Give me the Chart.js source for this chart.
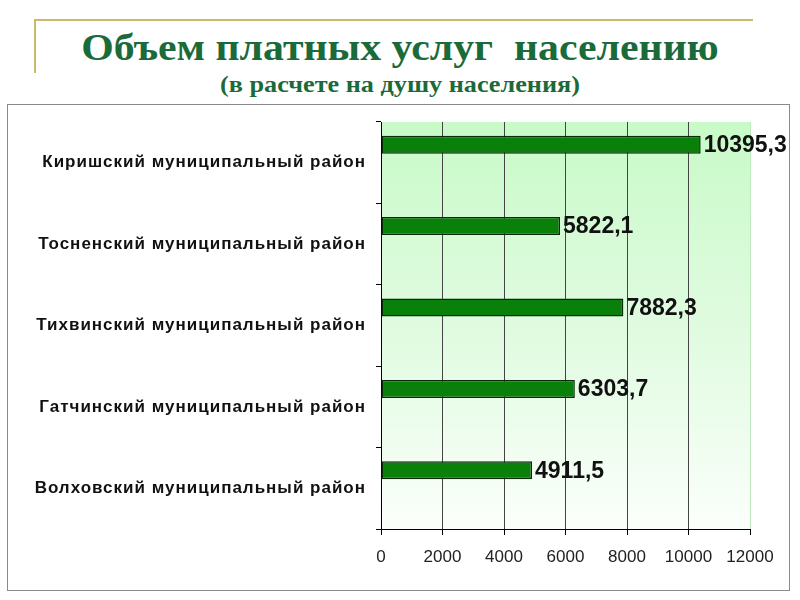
<!DOCTYPE html>
<html><head><meta charset="utf-8">
<script src="https://cdn.jsdelivr.net/npm/chart.js@4/dist/chart.umd.min.js"></script>
<style>
html,body{margin:0;padding:0;background:#fff;width:800px;height:600px;overflow:hidden;}
#wrap{position:absolute;left:0;top:0;width:800px;height:600px;}
.t{position:absolute;left:0;width:800px;text-align:center;font-family:"Liberation Serif",serif;font-weight:bold;color:#1a6a3a;white-space:nowrap;}
#t1{top:26px;font-size:37px;transform:scaleX(1.13);}
#t2{top:72px;font-size:23px;transform:scaleX(1.14);}
#gh{position:absolute;left:34px;top:19px;width:719px;height:2px;background:#cdb76a;}
#gv{position:absolute;left:34px;top:19px;width:2px;height:54px;background:#cdb76a;}
#frame{position:absolute;left:7px;top:104px;width:783px;height:487px;border:1.5px solid #8a8a8a;box-sizing:border-box;}
canvas{position:absolute;left:0;top:0;}
</style></head>
<body>
<div id="gh"></div><div id="gv"></div>
<div class="t" id="t1">Объем платных услуг&nbsp; населению</div>
<div class="t" id="t2">(в расчете на душу населения)</div>
<div id="frame"></div>
<div id="wrap"><canvas id="c" width="800" height="600"></canvas></div>
<script>
const categories = ["Киришский муниципальный район","Тосненский муниципальный район","Тихвинский муниципальный район","Гатчинский муниципальный район","Волховский муниципальный район"];
const values = [10395.3, 5822.1, 7882.3, 6303.7, 4911.5];
const valueLabels = ["10395,3","5822,1","7882,3","6303,7","4911,5"];
const xTicks = [0,2000,4000,6000,8000,10000,12000];

const bgPlugin = {
  id:'bg',
  beforeDraw(chart){
    const {ctx, chartArea:a} = chart;
    const g = ctx.createLinearGradient(0,a.top,0,a.bottom);
    g.addColorStop(0,'#c8fac8');
    g.addColorStop(0.55,'#e2fbe2');
    g.addColorStop(1,'#fbfffb');
    ctx.save(); ctx.fillStyle=g; ctx.fillRect(a.left,a.top,a.right-a.left,a.bottom-a.top); ctx.restore();
  },
  afterLayout(chart){
    const ys = chart.scales.y;
    if (!ys._spaced){
      const orig = ys.drawLabels;
      ys.drawLabels = function(area){ this.ctx.save(); this.ctx.letterSpacing='1px'; orig.call(this, area); this.ctx.restore(); };
      ys._spaced = true;
    }
  }
};
const labelPlugin = {
  id:'vals',
  afterDatasetsDraw(chart){
    const {ctx} = chart;
    const meta = chart.getDatasetMeta(0);
    ctx.save();
    ctx.font='bold 23px "Liberation Sans", Arial, sans-serif';
    ctx.fillStyle='#111';
    ctx.textBaseline='middle';
    ctx.textAlign='left';
    meta.data.forEach((el,i)=>{ ctx.fillText(valueLabels[i], el.x+3, el.y+1); });
    ctx.restore();
  }
};

new Chart(document.getElementById('c'),{
  type:'bar',
  data:{labels:categories,datasets:[
    {data:values,backgroundColor:'#098009',borderColor:'#0a2a0a',borderWidth:1.5,borderSkipped:false,barPercentage:0.5,categoryPercentage:0.885},
    {data:categories.map(()=>null),backgroundColor:'transparent',barPercentage:0.5,categoryPercentage:0.885}
  ]},
  options:{
    indexAxis:'y',responsive:false,animation:false,
    layout:{padding:{left:0,top:122,right:50,bottom:0}},
    plugins:{legend:{display:false},tooltip:{enabled:false}},
    scales:{
      x:{min:0,max:12000,
        afterBuildTicks(s){s.ticks=xTicks.map(v=>({value:v}));},
        afterFit(s){s.height=71;},
        grid:{color:(c)=>c.tick&&c.tick.value===12000?'#bfe8bf':(c.tick&&c.tick.value===0?'#000':'#444'),tickColor:'#000',tickLength:6,lineWidth:1},
        border:{color:'#000',width:1},
        ticks:{callback:(v)=>String(v),font:{family:'"Liberation Sans", Arial, sans-serif',size:17},color:'#222',padding:12,maxRotation:0,autoSkip:false}
      },
      y:{
        afterFit(s){s.width=381;},
        grid:{drawOnChartArea:false,drawTicks:true,tickLength:5,tickColor:'#000',offset:true},
        border:{color:'#000',width:1},
        ticks:{font:{family:'"Liberation Sans", Arial, sans-serif',size:17,weight:'bold'},color:'#111',padding:10,autoSkip:false}
      }
    }
  },
  plugins:[bgPlugin,labelPlugin]
});
</script>
</body></html>
